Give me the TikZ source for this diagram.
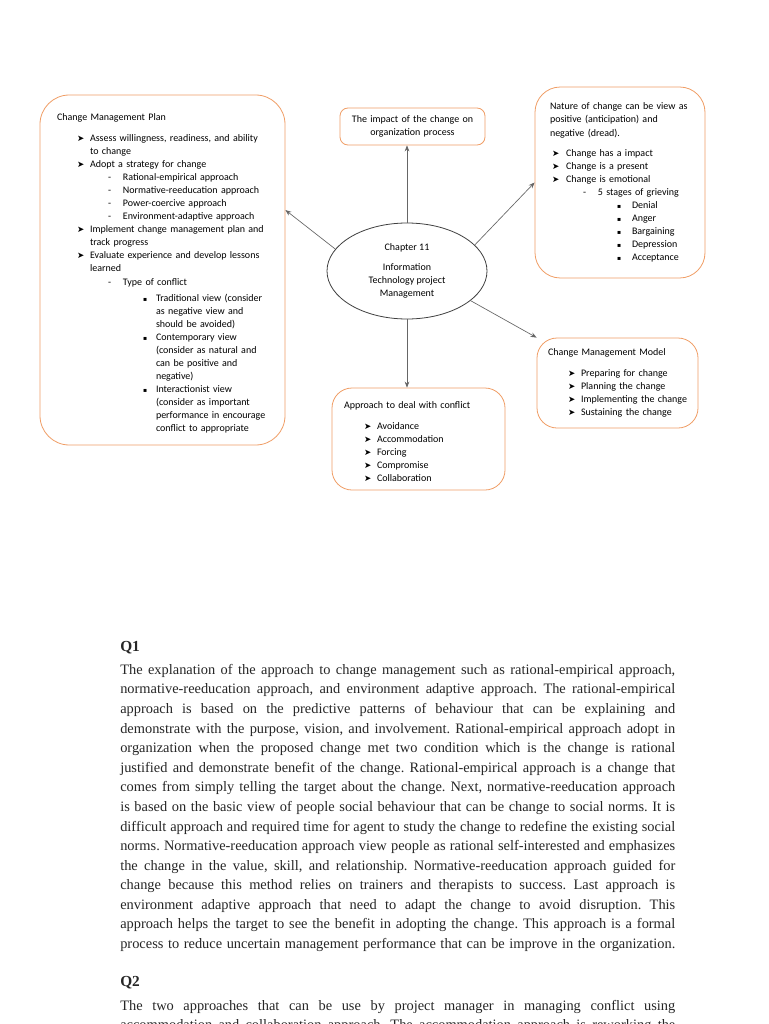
\documentclass[tikz,border=0pt]{standalone}
\usepackage{fontspec}
\setmainfont{Liberation Serif}
\newfontfamily\calib{Carlito}
\newfontfamily\symf{DejaVu Sans}
\usetikzlibrary{shapes.geometric,arrows.meta}

\definecolor{boxorange}{RGB}{240,158,102}

\newcommand{\arrowbul}{{\symf\fontsize{6.5}{6.5}\selectfont ➤}}
\newcommand{\squarebul}{{\symf\fontsize{4.5}{4.5}\selectfont ▪}}
\newcommand{\itm}[4]{\hspace*{#1}\makebox[#2][l]{#3}\mbox{#4}}
\newcommand{\cont}[2]{\hspace*{#1}\mbox{#2}}
\newcommand{\jline}[1]{{\frenchspacing\spaceskip=0pt\xspaceskip=0pt\makebox[416.25pt][s]{#1}}}

\tikzset{
  orbox/.style={draw=boxorange, line width=0.6pt, fill=white, align=left,
    font=\calib\fontsize{7.5}{9.78}\selectfont, inner ysep=0pt},
  chapnode/.style={ellipse, draw=black!75, line width=0.6pt, align=center, inner sep=0pt,
    minimum width=120pt, minimum height=72pt, font=\calib\fontsize{7.5}{9.9}\selectfont},
  link/.style={draw=black!60, line width=0.5pt, -{Stealth[length=4.5pt,width=3.5pt]}},
  bodytext/.style={align=left, inner sep=0pt, anchor=north west, text width=416.25pt,
    font=\fontsize{10.8}{14.68}\selectfont, text=black!85},
  qhead/.style={anchor=base west, inner sep=0pt, font=\bfseries\fontsize{11.5}{12}\selectfont, text=black!85}
}

\begin{document}
\begin{tikzpicture}[x=0.75pt, y=-0.75pt]
  \fill[white] (0,0) rectangle (768,1024);
  \useasboundingbox (0,0) rectangle (768,1024);

  % Nodes
  \node[chapnode] (chap) at (407,271) {Chapter 11\\[4.5pt]Information\\Technology project\\Management};

  \node[orbox, rounded corners=22pt, text width=158.25pt, inner xsep=12.75pt, minimum height=262.5pt] (plan) at (162.5,270) {%
    \rule{0pt}{10.2pt}\mbox{Change Management Plan}\\[6pt]
    \itm{15pt}{9.75pt}{\arrowbul}{Assess willingness, readiness, and ability}\\
    \cont{24.75pt}{to change}\\
    \itm{15pt}{9.75pt}{\arrowbul}{Adopt a strategy for change}\\
    \itm{38.25pt}{11.25pt}{-}{Rational-empirical approach}\\
    \itm{38.25pt}{11.25pt}{-}{Normative-reeducation approach}\\
    \itm{38.25pt}{11.25pt}{-}{Power-coercive approach}\\
    \itm{38.25pt}{11.25pt}{-}{Environment-adaptive approach}\\
    \itm{15pt}{9.75pt}{\arrowbul}{Implement change management plan and}\\
    \cont{24.75pt}{track progress}\\
    \itm{15pt}{9.75pt}{\arrowbul}{Evaluate experience and develop lessons}\\
    \cont{24.75pt}{learned}\\
    \itm{38.25pt}{11.25pt}{-}{Type of conflict}\\[2.25pt]
    \itm{64.5pt}{9.75pt}{\squarebul}{Traditional view (consider}\\
    \cont{74.25pt}{as negative view and}\\
    \cont{74.25pt}{should be avoided)}\\
    \itm{64.5pt}{9.75pt}{\squarebul}{Contemporary view}\\
    \cont{74.25pt}{(consider as natural and}\\
    \cont{74.25pt}{can be positive and}\\
    \cont{74.25pt}{negative)}\\
    \itm{64.5pt}{9.75pt}{\squarebul}{Interactionist view}\\
    \cont{74.25pt}{(consider as important}\\
    \cont{74.25pt}{performance in encourage}\\
    \cont{74.25pt}{conflict to appropriate}};

  \node[orbox, rounded corners=6pt, align=center, text width=93.75pt, inner xsep=7.5pt, minimum height=27.75pt] (impact) at (412.5,126.5) {%
    The impact of the change on\\organization process};

  \node[orbox, rounded corners=19pt, text width=105pt, inner xsep=11.25pt, minimum height=143.25pt] (nature) at (620,182.5) {%
    \mbox{Nature of change can be view as}\\
    \mbox{positive (anticipation) and}\\
    \mbox{negative (dread).}\\[5.25pt]
    \itm{1.5pt}{10.5pt}{\arrowbul}{Change has a impact}\\
    \itm{1.5pt}{10.5pt}{\arrowbul}{Change is a present}\\
    \itm{1.5pt}{10.5pt}{\arrowbul}{Change is emotional}\\
    \itm{24.75pt}{11.25pt}{-}{5 stages of grieving}\\
    \itm{50.25pt}{11.25pt}{\squarebul}{Denial}\\
    \itm{50.25pt}{11.25pt}{\squarebul}{Anger}\\
    \itm{50.25pt}{11.25pt}{\squarebul}{Bargaining}\\
    \itm{50.25pt}{11.25pt}{\squarebul}{Depression}\\
    \itm{50.25pt}{11.25pt}{\squarebul}{Acceptance}};

  \node[orbox, rounded corners=15pt, text width=104.25pt, inner xsep=8.25pt, minimum height=67.5pt] (model) at (617.5,383) {%
    \mbox{Change Management Model}\\[6pt]
    \itm{15pt}{9.75pt}{\arrowbul}{Preparing for change}\\
    \itm{15pt}{9.75pt}{\arrowbul}{Planning the change}\\
    \itm{15pt}{9.75pt}{\arrowbul}{Implementing the change}\\
    \itm{15pt}{9.75pt}{\arrowbul}{Sustaining the change}};

  \node[orbox, rounded corners=15pt, text width=111.75pt, inner xsep=9pt, minimum height=76.5pt] (conflict) at (418.5,439) {%
    \rule{0pt}{8.7pt}\mbox{Approach to deal with conflict}\\[6pt]
    \itm{15pt}{9.75pt}{\arrowbul}{Avoidance}\\
    \itm{15pt}{9.75pt}{\arrowbul}{Accommodation}\\
    \itm{15pt}{9.75pt}{\arrowbul}{Forcing}\\
    \itm{15pt}{9.75pt}{\arrowbul}{Compromise}\\
    \itm{15pt}{9.75pt}{\arrowbul}{Collaboration}};

  % Edges
  \draw[link] (chap.163) -- (plan.26.8);
  \draw[link] (chap.north) -- (chap.north |- impact.south);
  \draw[link] (chap.21) -- (nature.west);
  \draw[link] (chap.-25) -- (model.north west);
  \draw[link] (chap.south) -- (chap.south |- conflict.north);

  % Text below
  \node[qhead] (q1) at (120,651) {Q1};
  \node[bodytext] (q1text) at (120,664) {%
    \jline{The explanation of the approach to change management such as rational-empirical approach,}\\
    \jline{normative-reeducation approach, and environment adaptive approach. The rational-empirical}\\
    \jline{approach is based on the predictive patterns of behaviour that can be explaining and}\\
    \jline{demonstrate with the purpose, vision, and involvement. Rational-empirical approach adopt in}\\
    \jline{organization when the proposed change met two condition which is the change is rational}\\
    \jline{justified and demonstrate benefit of the change. Rational-empirical approach is a change that}\\
    \jline{comes from simply telling the target about the change. Next, normative-reeducation approach}\\
    \jline{is based on the basic view of people social behaviour that can be change to social norms. It is}\\
    \jline{difficult approach and required time for agent to study the change to redefine the existing social}\\
    \jline{norms. Normative-reeducation approach view people as rational self-interested and emphasizes}\\
    \jline{the change in the value, skill, and relationship. Normative-reeducation approach guided for}\\
    \jline{change because this method relies on trainers and therapists to success. Last approach is}\\
    \jline{environment adaptive approach that need to adapt the change to avoid disruption. This}\\
    \jline{approach helps the target to see the benefit in adopting the change. This approach is a formal}\\
    \jline{process to reduce uncertain management performance that can be improve in the organization.}};
  \node[qhead] (q2) at (120,986) {Q2};
  \node[bodytext] (q2text) at (120,1000) {%
    \jline{The two approaches that can be use by project manager in managing conflict using}\\
    \jline{accommodation and collaboration approach. The accommodation approach is reworking the}};
\end{tikzpicture}
\end{document}
